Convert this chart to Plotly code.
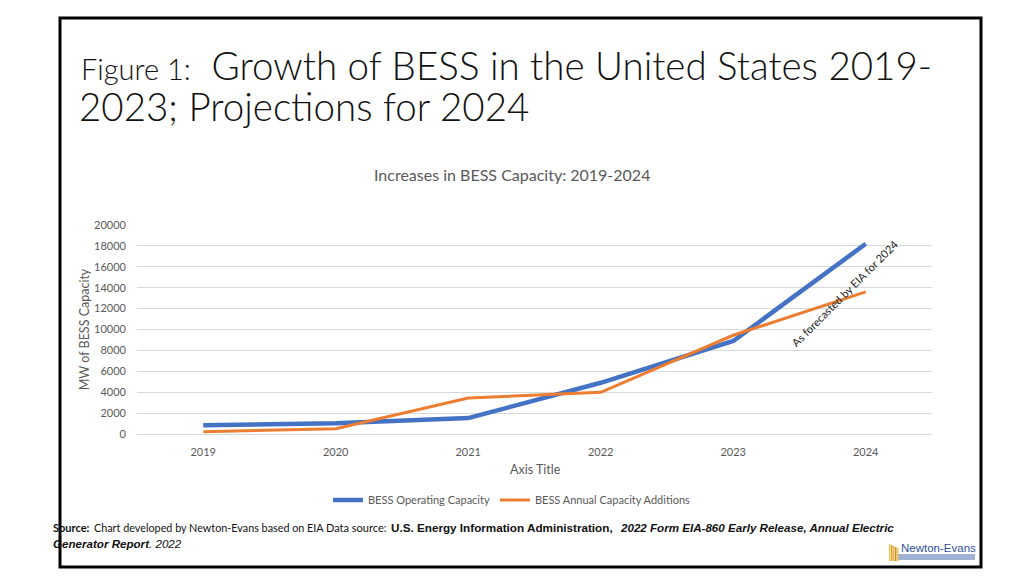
import plotly.graph_objects as go

years = ["2019", "2020", "2021", "2022", "2023", "2024"]
operating = [840, 1030, 1520, 4900, 8900, 18200]
additions = [220, 510, 3450, 3990, 9450, 13600]
y_ticks = [0, 2000, 4000, 6000, 8000, 10000, 12000, 14000, 16000, 18000, 20000]

W, H = 1024, 576
L, R, T, B = 137, 932, 225, 434


def px(x):
    return (x - L) / (R - L)


def py(y):
    return (B - y) / (B - T)


GRAY = "#595959"
FONT = "Lato"

fig = go.Figure()
fig.add_trace(go.Scatter(x=years, y=operating, mode="lines", name="BESS Operating Capacity",
                         line=dict(color="#4472C4", width=4.5)))
fig.add_trace(go.Scatter(x=years, y=additions, mode="lines", name="BESS Annual Capacity Additions",
                         line=dict(color="#ED7D31", width=3)))

ann = []
# Slide title
ann.append(dict(text='<span style="font-size:29px">Figure 1:</span>  Growth of BESS in the United States 2019-',
                x=px(79), y=py(65), xanchor="left", yanchor="middle",
                font=dict(family=FONT, size=38.5, color="#111111", weight=300)))
ann.append(dict(text="2023; Projections for 2024", x=px(77), y=py(106), xanchor="left", yanchor="middle",
                font=dict(family=FONT, size=38.5, color="#111111", weight=300)))
# Chart title
ann.append(dict(text="Increases in BESS Capacity: 2019-2024", x=px(512), y=py(174), xanchor="center",
                yanchor="middle", font=dict(family=FONT, size=16, color=GRAY)))
# Axis title (x)
ann.append(dict(text="Axis Title", x=px(535), y=py(469), xanchor="center", yanchor="middle",
                font=dict(family=FONT, size=12.5, color=GRAY)))
# Forecast note
ann.append(dict(text="As forecasted by EIA for 2024", x=px(844), y=py(293), xanchor="center",
                yanchor="middle", textangle=-45, font=dict(family=FONT, size=11, color="#222222")))
# Source lines
ann.append(dict(text="<b>Source:</b>", x=px(51), y=py(527), xanchor="left", yanchor="middle",
                font=dict(family=FONT, size=11, color="#111111")))
ann.append(dict(text="Chart developed by Newton-Evans based on EIA", x=px(92), y=py(527), xanchor="left",
                yanchor="middle", font=dict(family="Liberation Sans Narrow, " + FONT, size=10.8, color="#111111")))
ann.append(dict(text="Data source:", x=px(324), y=py(527), xanchor="left", yanchor="middle",
                font=dict(family=FONT, size=11, color="#111111")))
ann.append(dict(text="<b>U.S. Energy Information Administration,</b>", x=px(389), y=py(527), xanchor="left",
                yanchor="middle", font=dict(family="Liberation Sans", size=11.7, color="#111111")))
ann.append(dict(text="<b><i>2022 Form EIA-860 Early Release, Annual Electric</i></b>", x=px(618), y=py(527),
                xanchor="left", yanchor="middle", font=dict(family="Liberation Sans", size=11.6, color="#111111")))
ann.append(dict(text="<b><i>Generator Report</i></b><i>. 2022</i>", x=px(51), y=py(543), xanchor="left",
                yanchor="middle", font=dict(family="Liberation Sans", size=11.6, color="#111111")))
# Logo text
ann.append(dict(text="Newton-Evans", x=px(899), y=py(548), xanchor="left", yanchor="middle",
                font=dict(family="Liberation Sans Narrow, Liberation Sans", size=11.5, color="#2E4F9E")))

for a in ann:
    a.update(xref="paper", yref="paper", showarrow=False)

shapes = [
    dict(type="rect", xref="paper", yref="paper", x0=px(60), x1=px(981), y0=py(18), y1=py(567),
         line=dict(color="black", width=3), layer="above"),
    # logo bits
    dict(type="rect", xref="paper", yref="paper", x0=px(898), x1=px(975), y0=py(554), y1=py(560),
         fillcolor="#9FB2D4", line=dict(width=0)),
]
stripe_cols = ["#F2C14E", "#D9A02A", "#E8B33A", "#C98C1E", "#F0C35A"]
for i, c in enumerate(stripe_cols):
    shapes.append(dict(type="rect", xref="paper", yref="paper", x0=px(889 + 2 * i), x1=px(890.5 + 2 * i),
                       y0=py(544 + i), y1=py(561), fillcolor=c, line=dict(width=0)))

fig.update_layout(
    width=W, height=H,
    margin=dict(l=L, r=W - R, t=T, b=H - B, pad=0),
    paper_bgcolor="white", plot_bgcolor="white",
    font=dict(family=FONT, color=GRAY),
    annotations=ann, shapes=shapes,
    showlegend=True,
    legend=dict(orientation="h", x=px(512), xanchor="center", y=py(500), yanchor="middle",
                font=dict(family=FONT, size=11, color=GRAY), itemwidth=30, traceorder="normal"),
    xaxis=dict(type="category", range=[-0.5, 5.5], showgrid=False, showline=True, linecolor="#d9d9d9",
               linewidth=1, ticks="", tickfont=dict(family=FONT, size=11, color=GRAY),
               ticklabelstandoff=8, zeroline=False),
    yaxis=dict(range=[0, 20000], tickvals=y_ticks, ticktext=[str(v) for v in y_ticks],
               showgrid=True, gridcolor="#d9d9d9", gridwidth=1, zeroline=False, ticks="",
               tickfont=dict(family=FONT, size=11, color=GRAY), ticklabelstandoff=10,
               title=dict(text="MW of BESS Capacity", font=dict(family=FONT, size=12.5, color=GRAY),
                          standoff=1)),
)

fig.write_html("out.html")
